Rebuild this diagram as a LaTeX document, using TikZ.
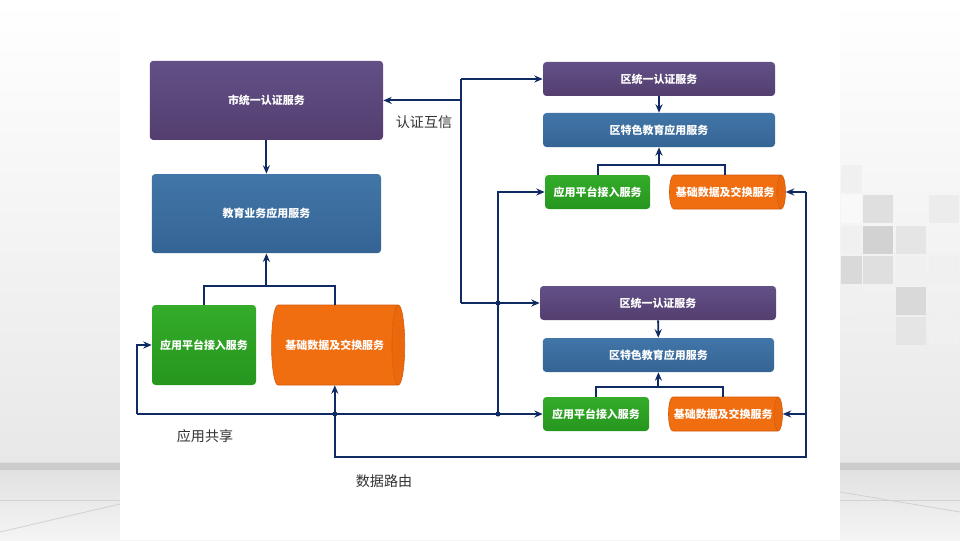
\documentclass[tikz,border=0pt]{standalone}
\usepackage{fontspec}
\setmainfont{Noto Sans CJK SC}
\usepackage{tikz}
\usetikzlibrary{positioning}
\usetikzlibrary{shapes.geometric}
\usetikzlibrary{arrows.meta}
\usepackage{xcolor}

\definecolor{authtop}{RGB}{98,80,134}
\definecolor{authbot}{RGB}{84,62,112}
\definecolor{edutop}{RGB}{66,118,168}
\definecolor{edubot}{RGB}{52,100,148}
\definecolor{acctop}{RGB}{52,172,42}
\definecolor{accbot}{RGB}{38,150,30}
\definecolor{datafill}{RGB}{240,110,16}
\definecolor{dataend}{RGB}{236,104,12}
\definecolor{dataline}{RGB}{210,90,10}
\definecolor{linec}{RGB}{16,42,100}
\definecolor{notec}{RGB}{50,50,50}

\tikzset{
  box/.style={rounded corners=2.5pt, text=white, inner sep=0pt, align=center,
    font=\bfseries\fontsize{7.8}{9}\selectfont},
  authbox/.style={box, top color=authtop, bottom color=authbot},
  edubox/.style={box, top color=edutop, bottom color=edubot},
  accbox/.style={box, top color=acctop, bottom color=accbot},
  databox/.style={shape=cylinder, shape aspect=#1, text=white, inner sep=0pt,
    cylinder uses custom fill, cylinder body fill=datafill, cylinder end fill=dataend,
    draw=dataline, line width=0.4pt, font=\bfseries\fontsize{7.8}{9}\selectfont},
  flow/.style={draw=linec, line width=1.3pt, -{Stealth[length=6pt,width=5pt]}},
  wire/.style={draw=linec, line width=1.3pt},
  note/.style={text=notec, font=\fontsize{10}{12}\selectfont},
}

\begin{document}
\begin{tikzpicture}
\useasboundingbox (0,0) rectangle (24,13.5);

% background
{
\fill[top color=white, bottom color=gray!18] (0,1.93) rectangle (24,13.5);
\fill[top color=gray!25, bottom color=gray!8] (0,0) rectangle (24,1.93);
\fill[gray!40] (0,1.75) rectangle (24,1.93);
\draw[gray!35, line width=0.6pt] (0,1.0) -- (24,1.0);
\draw[gray!35, line width=0.6pt] (0,0.2) -- (3,0.9);
\draw[gray!35, line width=0.6pt] (21,1.2) -- (24,0.7);

\foreach \x/\y/\w/\g in {21.03/8.68/0.52/12, 21.03/7.93/0.52/5, 21.58/7.93/0.75/25,
  23.23/7.93/0.75/15, 21.03/7.15/0.52/12, 21.58/7.15/0.75/35, 22.4/7.15/0.75/20,
  21.03/6.4/0.52/30, 21.58/6.4/0.75/25, 22.4/6.4/0.75/12, 23.23/6.4/0.75/12,
  21.03/5.63/0.52/12, 22.4/5.63/0.75/30, 22.4/4.88/0.75/20, 23.23/4.88/0.75/12}
  \fill[gray!\g] (\x,\y) rectangle ++(\w,0.7);

\fill[white] (3,0) rectangle (21,13.5);
}

% city level
{
\node[authbox, minimum width=5.83cm, minimum height=1.98cm] (city) at (6.66,10.99) {市统一认证服务};
\node[edubox, minimum width=5.73cm, minimum height=1.98cm] (edu) at (6.66,8.16) {教育业务应用服务};
\node[accbox, minimum width=2.6cm, minimum height=2cm] (lacc) at (5.1,4.875) {应用平台接入服务};
\node[databox=1.2, minimum width=2cm, minimum height=3.33cm] (ldata) at (8.37,4.875) {基础数据及交换服务};
}

% district A
{
\node[authbox, minimum width=5.8cm, minimum height=0.85cm] (aauth) at (16.475,11.525) {区统一认证服务};
\node[edubox, minimum width=5.8cm, minimum height=0.85cm] (aedu) at (16.475,10.25) {区特色教育应用服务};
\node[accbox, minimum width=2.63cm, minimum height=0.85cm] (aacc) at (14.94,8.7) {应用平台接入服务};
\node[databox=0.8, minimum width=0.85cm, minimum height=2.9cm] (adata) at (18.13,8.7) {基础数据及交换服务};
}

% district B
{
\node[authbox, minimum width=5.9cm, minimum height=0.85cm] (bauth) at (16.45,5.925) {区统一认证服务};
\node[edubox, minimum width=5.78cm, minimum height=0.85cm] (bedu) at (16.46,4.625) {区特色教育应用服务};
\node[accbox, minimum width=2.65cm, minimum height=0.85cm] (bacc) at (14.9,3.15) {应用平台接入服务};
\node[databox=0.8, minimum width=0.85cm, minimum height=2.85cm] (bdata) at (18.08,3.15) {基础数据及交换服务};
}

% inner links
{
\coordinate (ljoin) at (6.66,6.35);
\coordinate (ajoin) at (16.475,9.375);
\coordinate (bjoin) at (16.46,3.825);

\draw[flow] (city) -- (edu);
\draw[wire] (lacc.north) |- (ljoin) -| (ldata.north);
\draw[flow] (ljoin) -- (edu.south);

\draw[flow] (aauth) -- (aedu);
\draw[wire] (aacc.north) |- (ajoin) -| (adata.north);
\draw[flow] (ajoin) -- (aedu.south);

\draw[flow] (bauth) -- (bedu);
\draw[wire] (bacc.north) |- (bjoin) -| (bdata.north);
\draw[flow] (bjoin) -- (bedu.south);
}

% trust links
{
\coordinate (trust) at (11.525,0);
\draw[wire] (trust |- aauth.west) -- (trust |- bauth.west);
\draw[flow] (trust |- city.east) -- (city.east);
\draw[flow] (trust |- aauth.west) -- (aauth.west);
\draw[flow] (trust |- bauth.west) -- (bauth.west);
}

% share links
{
\coordinate (share) at (3.425,0);
\coordinate (branch) at (12.45,0);
\draw[flow] (share |- bacc.west) -- (share |- lacc.west) -- (lacc.west);
\draw[flow] (share |- bacc.west) -- (bacc.west);
\draw[flow] (branch |- bacc.west) -- (branch |- aacc.west) -- (aacc.west);
\fill[linec] (branch |- bacc.west) circle (1.8pt);
\fill[linec] (branch |- bauth.west) circle (1.8pt);
}

% route links
{
\coordinate (route) at (20.15,2.075);
\draw[flow] (route |- adata.east) -- (adata.east);
\draw[flow] (route |- bdata.east) -- (bdata.east);
\draw[flow] (route |- adata.east) -- (route) -| (ldata.south);
\fill[linec] (ldata.south |- bacc.west) circle (1.8pt);
}

% labellings
{
\node[note] (trustlabel) at (10.6,10.45) {认证互信};
\node[note] (sharelabel) at (5.125,2.6) {应用共享};
\node[note] (routelabel) at (9.6,1.475) {数据路由};
}
\end{tikzpicture}
\end{document}
